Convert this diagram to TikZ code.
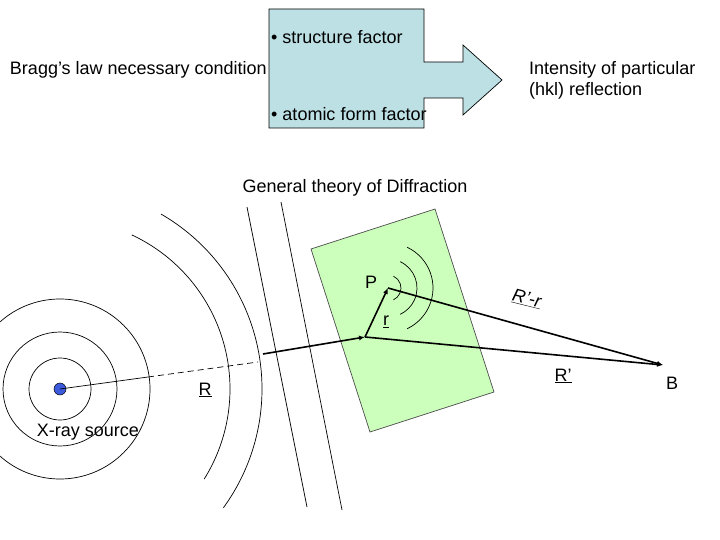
\documentclass[tikz,border=0pt]{standalone}
\usepackage{fontspec}
\setmainfont{Liberation Sans}
\usetikzlibrary{arrows.meta}
\begin{document}
\begin{tikzpicture}[x=1pt,y=-1pt,
  txt/.style={inner sep=0pt,font=\fontsize{18}{21}\selectfont},
  thin/.style={line width=0.7pt},
  ray/.style={line width=1.6pt,-{Latex[length=6pt,width=5pt]}}]
\useasboundingbox (0,0) rectangle (720,540);
% top block arrow
\draw[fill={rgb,255:red,189;green,224;blue,228},line width=0.7pt]
  (269,9) -- (424,9) -- (424,62) -- (463,62) -- (463,45) -- (502,80) -- (463,115) -- (463,98) -- (424,98) -- (424,128) -- (269,128) -- cycle;
\node[txt,anchor=west] (sf) at (271,37) {• structure factor};
\node[txt,anchor=west] (af) at (271,114) {• atomic form factor};
\node[txt,anchor=east] (bragg) at (267,70) {Bragg’s law necessary condition};
\node[txt,anchor=north west,align=left] (int) at (529,61) {Intensity of particular\\(hkl) reflection};
\node[txt] (gen) at (355,188) {General theory of Diffraction};
% crystal
\draw[fill={rgb,255:red,204;green,255;blue,187},draw=black!70,line width=0.7pt]
  (311,249) -- (435,209) -- (494,392) -- (370,432) -- cycle;
% source
\coordinate (S) at (60,389);
\foreach \r in {31,57,90} \draw[thin] (S) circle (\r);
\draw[thin] (S) ++(-65:170) arc (-65:32:170);
\draw[thin] (S) ++(-60:202) arc (-60:36:202);
\draw[thin] (247,207) -- (307,507);
\draw[thin] (281,202) -- (342,510);
\draw[fill={rgb,255:red,60;green,90;blue,220},line width=0.5pt] (S) circle (6);
\coordinate (D1) at (148,377);
\coordinate (D2) at (258,362);
\draw[thin] (S) -- (D1);
\draw[thin,dash pattern=on 6pt off 4pt] (D1) -- (D2);
\coordinate (A) at (263,354);
\coordinate (O) at (365,337);
\coordinate (P) at (388,288);
\coordinate (B) at (663,365);
\draw[ray,-{Latex[length=6pt,width=5pt,fill=green!40!black]}] (A) -- (O);
\draw[ray] (O) -- (P);
\draw[ray] (P) -- (B);
\draw[ray] (O) -- (B);
% scattered wavelets
\foreach \r in {13,29,45} \draw[thin] (P) ++(-65:\r) arc (-65:65:\r);
% labels
\node[txt] (lP) at (371,282) {P};
\node[txt] (lr) at (386,322) {\underline{r}};
\node[txt,rotate=-14] (lRr) at (527,299) {\underline{\textit{R’-r}}};
\node[txt] (lRp) at (563,376) {\underline{R’}};
\node[txt] (lB) at (672,383) {B};
\node[txt] (lR) at (205,390) {\underline{R}};
\node[txt] (lX) at (88,432) {X-ray source};
\end{tikzpicture}
\end{document}
